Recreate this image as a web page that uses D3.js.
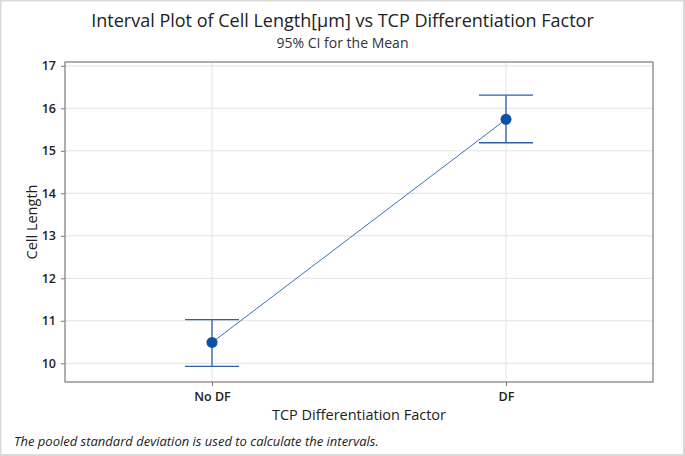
<!DOCTYPE html>
<html>
<head>
<meta charset="utf-8">
<script src="https://cdn.jsdelivr.net/npm/d3@7"></script>
<style>
  body { margin: 0; background: #fff; }
  text { font-family: "Open Sans", "Noto Sans", sans-serif; }
</style>
</head>
<body>
<div id="chart"></div>
<script>
// factor levels and the interval values
const categories = ["No DF", "DF"];
const means = [10.49, 15.74];
const lowerCI = [9.93, 15.19];
const upperCI = [11.03, 16.31];
const yTicks = [10, 11, 12, 13, 14, 15, 16, 17];

const sizes = { width: 685, height: 456 };
const margin = { top: 62, right: 32, bottom: 74, left: 65 };

const points = categories.map((c, i) => ({
    cat: c, mean: means[i], lo: lowerCI[i], hi: upperCI[i]
}));

var svg = d3.select("#chart")
            .append("svg")
            .attr("width", sizes.width)
            .attr("height", sizes.height);

// faint frame round the whole picture
svg.append("rect")
   .attr("x", 0.5).attr("y", 0.5)
   .attr("width", sizes.width - 1.5).attr("height", sizes.height - 1.5)
   .attr("fill", "#fff")
   .attr("stroke", "#d9d9d9")
   .attr("stroke-width", 2);

const innerW = sizes.width - margin.left - margin.right;
const innerH = sizes.height - margin.top - margin.bottom;

var x = d3.scalePoint()
          .domain(categories)
          .range([0, innerW])
          .padding(0.5);

var y = d3.scaleLinear()
          .domain([9.56, 17.09])
          .range([innerH, 0]);

var g = svg.append("g")
           .attr("transform", `translate(${margin.left}, ${margin.top})`);

/* grid lines */
g.append("g")
 .selectAll("line")
 .data(yTicks)
 .join("line")
  .attr("x1", 0).attr("x2", innerW)
  .attr("y1", d => y(d)).attr("y2", d => y(d))
  .attr("stroke", "#e3e3e3");

g.append("g")
 .selectAll("line")
 .data(categories)
 .join("line")
  .attr("x1", d => x(d)).attr("x2", d => x(d))
  .attr("y1", 0).attr("y2", innerH)
  .attr("stroke", "#e3e3e3");

/* axes */
var yAxis = g.append("g")
             .call(d3.axisLeft(y).tickValues(yTicks).tickSize(4).tickPadding(5).tickFormat(d3.format("d")));
var xAxis = g.append("g")
             .attr("transform", `translate(0, ${innerH})`)
             .call(d3.axisBottom(x).tickSize(4).tickPadding(6));

[xAxis, yAxis].forEach(ax => {
    ax.select(".domain").remove();
    ax.selectAll("line").attr("stroke", "#777");
    ax.selectAll("text")
      .attr("fill", "#222")
      .attr("font-size", "12.5px")
      .attr("font-weight", "600")
      .style("font-family", "'Open Sans', sans-serif");
});

// plot border
g.append("rect")
 .attr("width", innerW).attr("height", innerH)
 .attr("fill", "none")
 .attr("stroke", "#7a7a7a")
 .attr("stroke-width", 1.2);

/* connect line between means */
g.append("path")
 .datum(points)
 .attr("fill", "none")
 .attr("stroke", "#3f6fbf")
 .attr("stroke-width", 1)
 .attr("d", d3.line().x(d => x(d.cat)).y(d => y(d.mean)));

/* interval bars */
const capHalf = 27;
var bars = g.append("g")
            .attr("stroke", "#2d5fab")
            .attr("stroke-width", 1.3)
            .selectAll("g")
            .data(points)
            .join("g");

bars.append("line")
    .attr("x1", d => x(d.cat)).attr("x2", d => x(d.cat))
    .attr("y1", d => y(d.lo)).attr("y2", d => y(d.hi));
bars.append("line")
    .attr("x1", d => x(d.cat) - capHalf).attr("x2", d => x(d.cat) + capHalf)
    .attr("y1", d => y(d.hi)).attr("y2", d => y(d.hi));
bars.append("line")
    .attr("x1", d => x(d.cat) - capHalf).attr("x2", d => x(d.cat) + capHalf)
    .attr("y1", d => y(d.lo)).attr("y2", d => y(d.lo));

g.append("g")
 .selectAll("circle")
 .data(points)
 .join("circle")
  .attr("cx", d => x(d.cat))
  .attr("cy", d => y(d.mean))
  .attr("r", 5.5)
  .attr("fill", "#0b52a6");

/* titles */
svg.append("text")
   .attr("x", sizes.width / 2).attr("y", 27)
   .attr("text-anchor", "middle")
   .attr("font-size", "18px")
   .attr("fill", "#222")
   .text("Interval Plot of Cell Length[µm] vs TCP Differentiation Factor");

svg.append("text")
   .attr("x", sizes.width / 2).attr("y", 48)
   .attr("text-anchor", "middle")
   .attr("font-size", "14px")
   .attr("fill", "#333")
   .text("95% CI for the Mean");

svg.append("text")
   .attr("x", margin.left + innerW / 2).attr("y", 420)
   .attr("text-anchor", "middle")
   .attr("font-size", "14.5px")
   .attr("fill", "#222")
   .text("TCP Differentiation Factor");

svg.append("text")
   .attr("transform", `translate(37, ${margin.top + innerH / 2}) rotate(-90)`)
   .attr("text-anchor", "middle")
   .attr("font-size", "14.5px")
   .attr("fill", "#222")
   .text("Cell Length");

svg.append("text")
   .attr("x", 14).attr("y", 446)
   .attr("font-size", "13px")
   .attr("font-style", "italic")
   .attr("fill", "#222")
   .text("The pooled standard deviation is used to calculate the intervals.");
</script>
</body>
</html>
